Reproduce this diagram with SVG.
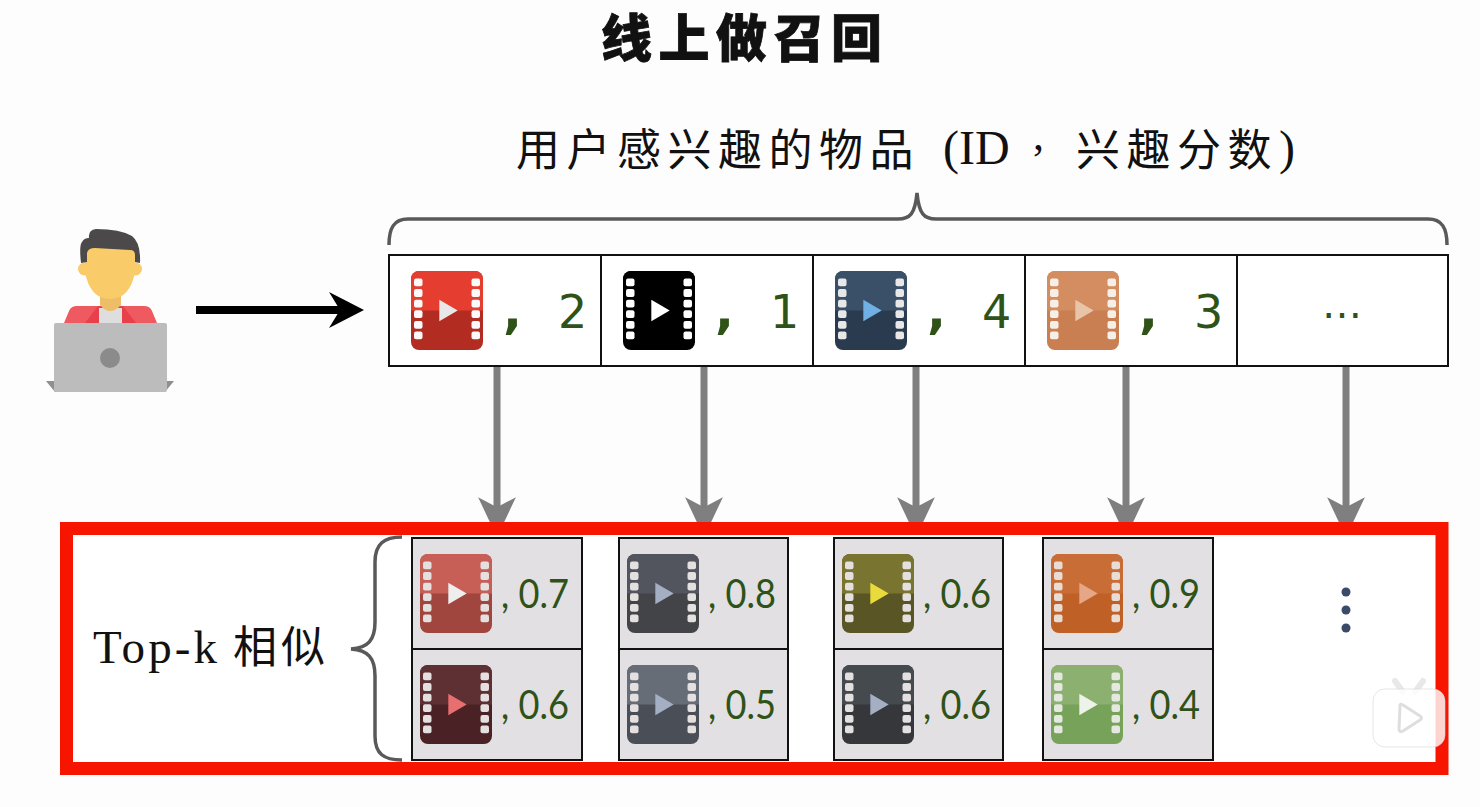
<svg xmlns="http://www.w3.org/2000/svg" width="1480" height="807" viewBox="0 0 1480 807">
<style>
text{font-family:"Liberation Serif","Noto Sans CJK SC",serif;fill:#111}
.num{font-family:"DejaVu Sans","Liberation Sans",sans-serif;font-size:46px;fill:#2f5219}
.cm{font-weight:700;font-size:50px}
.sc{font-family:"Lato","Liberation Sans",sans-serif;font-size:41px;fill:#2f5219}
.cell{fill:#fff;stroke:#111;stroke-width:2}
.sm{fill:#e2e0e2;stroke:#111;stroke-width:2}
.brace{fill:none;stroke:#595959;stroke-width:3.5}
.gl{stroke:#7f7f7f;stroke-width:7;fill:none}
</style>
<defs>
<symbol id="film" viewBox="0 0 72 79" width="72" height="79">
<rect width="72" height="79" rx="8" style="fill:var(--b)"/>
<path d="M0 39.5V8a8 8 0 0 1 8-8H64a8 8 0 0 1 8 8V39.5Z" style="fill:var(--a)"/>
<g style="fill:var(--h)">
<rect x="3" y="7.5" width="8.5" height="7.8" rx="2"/><rect x="3" y="18.1" width="8.5" height="7.8" rx="2"/><rect x="3" y="28.7" width="8.5" height="7.8" rx="2"/><rect x="3" y="39.3" width="8.5" height="7.8" rx="2"/><rect x="3" y="49.9" width="8.5" height="7.8" rx="2"/><rect x="3" y="60.5" width="8.5" height="7.8" rx="2"/>
<rect x="60.5" y="7.5" width="8.5" height="7.8" rx="2"/><rect x="60.5" y="18.1" width="8.5" height="7.8" rx="2"/><rect x="60.5" y="28.7" width="8.5" height="7.8" rx="2"/><rect x="60.5" y="39.3" width="8.5" height="7.8" rx="2"/><rect x="60.5" y="49.9" width="8.5" height="7.8" rx="2"/><rect x="60.5" y="60.5" width="8.5" height="7.8" rx="2"/>
</g>
<path d="M28.3 28.7L46.7 39.5L28.3 50.3Z" style="fill:var(--p)"/>
</symbol>
<marker id="gh" markerUnits="userSpaceOnUse" markerWidth="40" markerHeight="40" refX="34" refY="18" orient="auto" viewBox="0 0 36 36">
<path d="M0 1L36 18L0 35L9 18Z" fill="#7f7f7f"/>
</marker>
</defs>
<rect width="1480" height="807" fill="#fefdfe"/>

<g id="title"><text x="601" y="57" font-size="51" font-weight="900" letter-spacing="6.500" stroke="#111" stroke-width="0.800">线上做召回</text></g>
<g id="subtitle"><text y="166" font-size="44"><tspan x="516" letter-spacing="6.500">用户感兴趣的物品</tspan> <tspan x="943" y="164" font-size="48">(ID</tspan><tspan x="1033" y="150">,</tspan><tspan x="1076" y="166" letter-spacing="6.500">兴趣分数</tspan><tspan x="1279" y="164" font-size="48">)</tspan></text></g>

<g id="connectors">
<path d="M196 310H345" stroke="#000" stroke-width="8" fill="none"/>
<path d="M329 292L364 310L329 328L340 310Z" fill="#000"/>
<path class="gl" d="M497 366V535" marker-end="url(#gh)"/>
<path class="gl" d="M704 366V535" marker-end="url(#gh)"/>
<path class="gl" d="M916 366V535" marker-end="url(#gh)"/>
<path class="gl" d="M1126 366V535" marker-end="url(#gh)"/>
<path class="gl" d="M1346 366V535" marker-end="url(#gh)"/>
</g>

<g id="user">
<path d="M46 381H174L165 392H55Z" fill="#8f8f8f"/>
<path d="M64 323L69 311Q71 306 77 306H144Q150 306 152 311L157 323Z" fill="#ee5a5f"/>
<path d="M85 323L98 306H123L136 323Z" fill="#e8404a"/>
<path d="M99 323V308H122V323Z" fill="#dededf"/>
<path d="M100 290H121V305Q110 317 100 305Z" fill="#eebd68"/>
<circle cx="84.500" cy="269" r="6.500" fill="#f9cb69"/><circle cx="135.500" cy="269" r="6.500" fill="#f9cb69"/>
<path d="M85 248H135V272Q130 299 110 299Q90 299 85 272Z" fill="#f9cb69"/>
<path d="M81 263Q79 245 82 242Q84 238 89 238Q88 230 96 229Q120 229 132 236Q141 243 140 263L135 262V255Q135 250 130 250L95 248Q88 248 87 253V262Z" fill="#4b494a"/>
<rect x="54" y="323" width="113" height="69" rx="2" fill="#bdbcbd"/>
<ellipse cx="110" cy="358" rx="10" ry="10" fill="#8c8b8c"/>
</g>

<g id="interest-brace"><path class="brace" d="M389 245C389 228 394 219 408 219H898C910 219 915 214 917 193C919 214 924 219 936 219H1428C1442 219 1447 228 1447 245"/></g>

<g id="interest-row">
<rect class="cell" x="389" y="255" width="212" height="111"/>
<rect class="cell" x="601" y="255" width="212" height="111"/>
<rect class="cell" x="813" y="255" width="212" height="111"/>
<rect class="cell" x="1025" y="255" width="212" height="111"/>
<rect class="cell" x="1237" y="255" width="211" height="111"/>
</g>
<g id="item-1"><use href="#film" x="411" y="271" style="--a:#e53e30;--b:#b32c21;--p:#e8e8e8;--h:#fafafa"/><text class="num cm" x="503" y="328">,</text><text class="num" x="558" y="328">2</text></g>
<g id="item-2"><use href="#film" x="623" y="271" style="--a:#000;--b:#000;--p:#fff;--h:#fff"/><text class="num cm" x="715" y="328">,</text><text class="num" x="770" y="328">1</text></g>
<g id="item-3"><use href="#film" x="835" y="271" style="--a:#3a5068;--b:#2a3b4f;--p:#6fb0e5;--h:#e8e8e8"/><text class="num cm" x="927" y="328">,</text><text class="num" x="982" y="328">4</text></g>
<g id="item-4"><use href="#film" x="1047" y="271" style="--a:#d48d60;--b:#c97f52;--p:#e8c4a8;--h:#f5efe8"/><text class="num cm" x="1139" y="328">,</text><text class="num" x="1194" y="328">3</text></g>
<g id="item-more"><text class="num" x="1342" y="318" text-anchor="middle" style="font-size:40px">…</text></g>

<g id="topk-frame"><rect x="66.500" y="528.500" width="1375.500" height="240" fill="#fff" stroke="#f71500" stroke-width="13"/></g>
<g id="topk-label"><text x="93" y="663" font-size="47"><tspan textLength="124" lengthAdjust="spacing">Top-k</tspan><tspan x="233" font-size="44" letter-spacing="4">相似</tspan></text></g>
<g id="topk-brace"><path class="brace" d="M402 537C384 537 375 544 375 562V622C375 640 368 648 351 649C368 650 375 658 375 676V736C375 754 384 760 402 760"/></g>

<g id="sim-1">
<rect class="sm" x="412" y="538" width="170" height="111"/><rect class="sm" x="412" y="649" width="170" height="111"/>
<use href="#film" x="420" y="554" style="--a:#c75f56;--b:#a0463e;--p:#eeeeee;--h:#e4e0e0"/>
<use href="#film" x="420" y="665" style="--a:#5e3033;--b:#4a2225;--p:#e86f70;--h:#e4e0e0"/>
<text class="sc" x="501" y="608" textLength="68" lengthAdjust="spacingAndGlyphs">, 0.7</text>
<text class="sc" x="501" y="719" textLength="68" lengthAdjust="spacingAndGlyphs">, 0.6</text>
</g>
<g id="sim-2">
<rect class="sm" x="619" y="538" width="169" height="111"/><rect class="sm" x="619" y="649" width="169" height="111"/>
<use href="#film" x="627" y="554" style="--a:#52555d;--b:#434448;--p:#a5afc4;--h:#e4e0e0"/>
<use href="#film" x="627" y="665" style="--a:#666d77;--b:#4a4e57;--p:#a5afc4;--h:#e4e0e0"/>
<text class="sc" x="708" y="608" textLength="68" lengthAdjust="spacingAndGlyphs">, 0.8</text>
<text class="sc" x="708" y="719" textLength="68" lengthAdjust="spacingAndGlyphs">, 0.5</text>
</g>
<g id="sim-3">
<rect class="sm" x="834" y="538" width="169" height="111"/><rect class="sm" x="834" y="649" width="169" height="111"/>
<use href="#film" x="842" y="554" style="--a:#7a7431;--b:#5a5524;--p:#eadb3c;--h:#e4e0e0"/>
<use href="#film" x="842" y="665" style="--a:#454a4e;--b:#35373b;--p:#a5afc4;--h:#e4e0e0"/>
<text class="sc" x="923" y="608" textLength="68" lengthAdjust="spacingAndGlyphs">, 0.6</text>
<text class="sc" x="923" y="719" textLength="68" lengthAdjust="spacingAndGlyphs">, 0.6</text>
</g>
<g id="sim-4">
<rect class="sm" x="1043" y="538" width="170" height="111"/><rect class="sm" x="1043" y="649" width="170" height="111"/>
<use href="#film" x="1051" y="554" style="--a:#c96d36;--b:#bf6127;--p:#e5a788;--h:#e8dcd4"/>
<use href="#film" x="1051" y="665" style="--a:#8bb06f;--b:#76a25a;--p:#eef3ea;--h:#e4e8e0"/>
<text class="sc" x="1132" y="608" textLength="68" lengthAdjust="spacingAndGlyphs">, 0.9</text>
<text class="sc" x="1132" y="719" textLength="68" lengthAdjust="spacingAndGlyphs">, 0.4</text>
</g>
<g id="sim-more" fill="#3b4a68"><circle cx="1346" cy="592" r="4.500"/><circle cx="1346" cy="610" r="4.500"/><circle cx="1346" cy="628" r="4.500"/></g>

<g id="watermark">
<path d="M1395 681L1403 692M1423 681L1415 692" stroke="#e9e8e9" stroke-width="6" stroke-linecap="round" fill="none"/>
<rect x="1373" y="689" width="72" height="58" rx="12" fill="#fff" fill-opacity="0.82" stroke="#d8d6d8" stroke-opacity="0.6" stroke-width="1"/>
<path d="M1400 707Q1399 703 1403 705L1420 716Q1423 718 1420 720L1403 731Q1399 733 1399 729Z" fill="none" stroke="#dedede" stroke-width="3"/>
</g>
</svg>
